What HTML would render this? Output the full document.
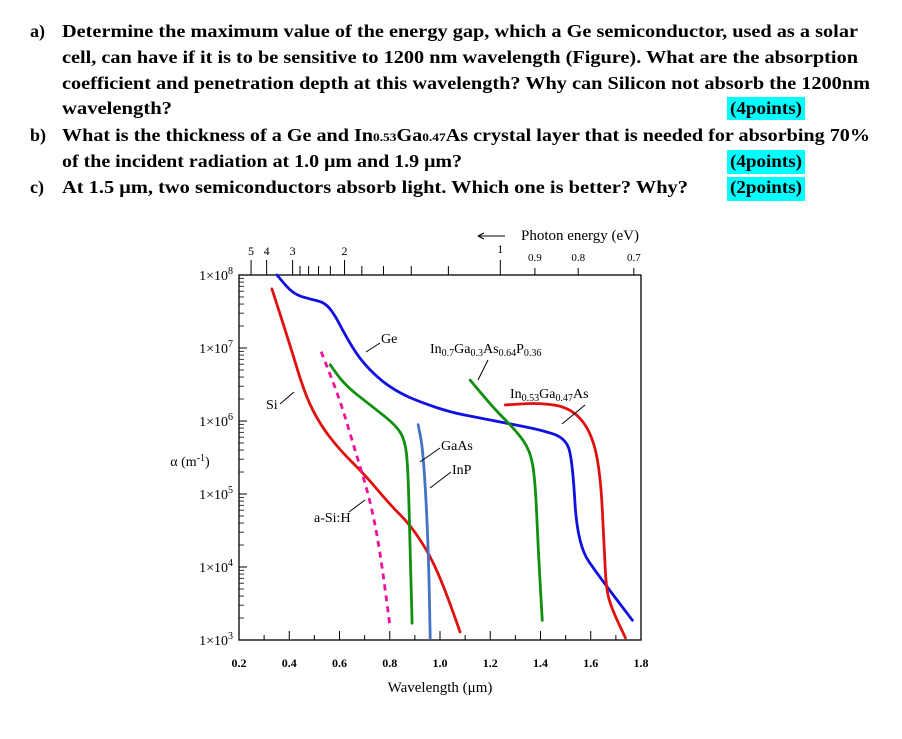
<!DOCTYPE html>
<html><head><meta charset="utf-8"><style>
html,body{margin:0;padding:0;background:#fff;}
svg{display:block;font-family:"Liberation Serif",serif;}
</style></head><body>
<svg id="fig" width="902" height="739" viewBox="0 0 902 739">
<g font-weight="bold" font-size="18">
<rect x="727" y="97" width="78" height="23" fill="#00ffff"/>
<rect x="727" y="150" width="78" height="24" fill="#00ffff"/>
<rect x="727" y="177" width="78" height="24" fill="#00ffff"/>
<text x="30" y="37">a)</text>
<text x="62" y="37" textLength="796" lengthAdjust="spacingAndGlyphs">Determine the maximum value of the energy gap, which a Ge semiconductor, used as a solar</text>
<text x="62" y="63" textLength="796" lengthAdjust="spacingAndGlyphs">cell, can have if it is to be sensitive to 1200 nm wavelength (Figure).  What are the absorption</text>
<text x="62" y="89" textLength="808" lengthAdjust="spacingAndGlyphs">coefficient and penetration depth at this wavelength?  Why can Silicon not absorb the 1200nm</text>
<text x="62" y="114" textLength="110" lengthAdjust="spacingAndGlyphs">wavelength?</text>
<text x="730" y="114" textLength="72" lengthAdjust="spacingAndGlyphs">(4points)</text>
<text x="30" y="141">b)</text>
<text x="62" y="141" textLength="808" lengthAdjust="spacingAndGlyphs">What is the thickness of a Ge and In<tspan font-size="12">0.53</tspan>Ga<tspan font-size="12">0.47</tspan>As crystal layer that is needed for absorbing 70%</text>
<text x="62" y="167" textLength="400" lengthAdjust="spacingAndGlyphs">of the incident radiation at 1.0 μm and 1.9 μm?</text>
<text x="730" y="167" textLength="72" lengthAdjust="spacingAndGlyphs">(4points)</text>
<text x="30" y="193">c)</text>
<text x="62" y="193" textLength="626" lengthAdjust="spacingAndGlyphs">At 1.5 μm, two semiconductors absorb light. Which one is better? Why?</text>
<text x="730" y="193" textLength="72" lengthAdjust="spacingAndGlyphs">(2points)</text>
</g>
<g id="chart"></g>
</svg>
<script>
const seriesNames=["Si","Ge","GaAs","InP","a-Si:H","InGaAsP","InGaAs"];
const seriesColors=["#e01010","#1010e0","#109010","#4472c4","#ee1199","#109010","#e01010"];
const siLambda=[0.331,0.403,0.463,0.523,0.602,0.702,0.802,0.881,0.961,1.021,1.080];
const siLogAlpha=[7.81,7.04,6.36,5.95,5.60,5.26,4.85,4.58,4.16,3.68,3.11];
const geLambda=[0.351,0.415,0.483,0.543,0.582,0.622,0.682,0.762,0.841,0.921,1.041,1.160,1.280,1.399,1.499,1.527,1.547,1.638,1.766];
const geLogAlpha=[8.0,7.74,7.67,7.62,7.45,7.18,6.84,6.56,6.38,6.26,6.12,6.04,5.96,5.88,5.77,5.47,4.30,3.85,3.27];
const gaasLambda=[0.563,0.622,0.722,0.822,0.861,0.873,0.881,0.889];
const gaasLogAlpha=[6.77,6.49,6.22,5.95,5.74,5.33,4.23,3.23];
const inpLambda=[0.913,0.933,0.953,0.961];
const inpLogAlpha=[5.95,5.6,4.37,3.03];
const asiLambda=[0.527,0.602,0.662,0.722,0.761,0.802];
const asiLogAlpha=[6.95,6.29,5.60,4.92,4.23,3.16];
const ingaaspLambda=[1.120,1.220,1.300,1.359,1.379,1.391,1.407];
const ingaaspLogAlpha=[6.56,6.15,5.88,5.60,5.19,4.23,3.27];
const ingaasLambda=[1.260,1.399,1.519,1.598,1.638,1.654,1.662,1.686,1.738];
const ingaasLogAlpha=[6.22,6.25,6.18,5.88,5.33,4.23,3.68,3.41,3.03];
const xTicks=[0.2,0.4,0.6,0.8,1.0,1.2,1.4,1.6,1.8];
const xTickLabels=["0.2","0.4","0.6","0.8","1.0","1.2","1.4","1.6","1.8"];
const yTicks=[8,7,6,5,4,3];
const yTickLabels=["8","7","6","5","4","3"];
const eTicks=[5,4,3,2,1,0.9,0.8,0.7];
const eTickLabels=["5","4","3","2","1","0.9","0.8","0.7"];
const eMinor=[2.8,2.6,2.4,2.2,1.8,1.6,1.4,1.2];

const NS="http://www.w3.org/2000/svg";
const g=document.getElementById('chart');
const X0=239,X1=641,Y0=275,Y1=640;
const xs=v=>X0+(v-0.2)/1.6*(X1-X0);
const ys=v=>Y0+(8-v)/5*(Y1-Y0);
function mk(t,a,p){const e=document.createElementNS(NS,t);for(const k in a)e.setAttribute(k,a[k]);(p||g).appendChild(e);return e;}
function txt(x,y,s,size,anchor){const e=mk('text',{x:x,y:y,'font-size':size||13,'text-anchor':anchor||'middle'});e.textContent=s;return e;}

const frame=mk('rect',{x:X0,y:Y0,width:X1-X0,height:Y1-Y0,fill:'none',stroke:'#000','stroke-width':1.3});


for(let v=0.2;v<=1.801;v+=0.1){const x=xs(v);mk('line',{x1:x,y1:Y1,x2:x,y2:Y1-(Math.round(v*10)%2?5:9),stroke:'#000'});}
xTicks.forEach((v,i)=>{const t=txt(xs(v),Y1+27,xTickLabels[i],12);t.setAttribute('font-weight','bold');

});
const xt=txt(440,692,'Wavelength (μm)',15);


yTicks.forEach((v,i)=>{const y=ys(v);mk('line',{x1:X0,y1:y,x2:X0+8,y2:y,stroke:'#000'});
if(v>3){for(let m=2;m<=9;m++){const yy=ys(v-1+Math.log10(m));mk('line',{x1:X0,y1:yy,x2:X0+5,y2:yy,stroke:'#000','stroke-width':0.8});}}
const t=mk('text',{x:X0-6,y:y+5,'font-size':14,'text-anchor':'end'});t.textContent='1×10';
const s=mk('tspan',{'font-size':10,dy:-6},t);s.textContent=yTickLabels[i];

});
const yt=mk('text',{x:190,y:466,'font-size':14,'text-anchor':'middle'});yt.textContent='α (m';
const sup=mk('tspan',{'font-size':10,dy:-5},yt);sup.textContent='-1';
const cl=mk('tspan',{'font-size':14,dy:5},yt);cl.textContent=')';


eTicks.forEach((e,i)=>{const x=xs(1.24/e);const big=e>=1;
mk('line',{x1:x,y1:Y0,x2:x,y2:Y0-(big?15:7),stroke:'#000'});
const t=txt(x,big?Y0-20:Y0-14,eTickLabels[i],big?12:11);
if(e===1)t.setAttribute('y',Y0-22);

});
eMinor.forEach(e=>{const x=xs(1.24/e);mk('line',{x1:x,y1:Y0,x2:x,y2:Y0-9,stroke:'#000'});});
const et=txt(580,240,'Photon energy (eV)',15);


mk('line',{x1:478,y1:236,x2:505,y2:236,stroke:'#000'});
mk('path',{d:'M478 236 l6 -3 M478 236 l6 3',stroke:'#000',fill:'none'});
const data=[[siLambda,siLogAlpha],[geLambda,geLogAlpha],[gaasLambda,gaasLogAlpha],[inpLambda,inpLogAlpha],[asiLambda,asiLogAlpha],[ingaaspLambda,ingaaspLogAlpha],[ingaasLambda,ingaasLogAlpha]];
data.forEach((d,i)=>{
 let p='';d[0].forEach((l,j)=>{const x=xs(l),y=ys(d[1][j]);
  if(j===0)p+='M'+x+' '+y;else{const px=xs(d[0][j-1]),py=ys(d[1][j-1]);p+=' Q'+px+' '+py+' '+((px+x)/2)+' '+((py+y)/2);}});
 p+=' L'+xs(d[0][d[0].length-1])+' '+ys(d[1][d[1].length-1]);
 const a={d:p,fill:'none',stroke:seriesColors[i],'stroke-width':2.8,'stroke-linecap':'round'};
 if(i===4){a['stroke-dasharray']='6 5';a['stroke-linecap']='butt';}
 const e=mk('path',a);
 
 
});
function lbl(x,y,html,name){const t=mk('text',{x:x,y:y,'font-size':14,'text-anchor':'start'});t.innerHTML=html;

}
lbl(381,343,'Ge','label-ge');mk('line',{x1:380,y1:343,x2:366,y2:352,stroke:'#000'});
lbl(430,353,'In<tspan font-size="10" dy="3">0.7</tspan><tspan dy="-3">Ga</tspan><tspan font-size="10" dy="3">0.3</tspan><tspan dy="-3">As</tspan><tspan font-size="10" dy="3">0.64</tspan><tspan dy="-3">P</tspan><tspan font-size="10" dy="3">0.36</tspan>','label-ingaasp');
mk('line',{x1:488,y1:360,x2:478,y2:380,stroke:'#000'});
lbl(510,398,'In<tspan font-size="10" dy="3">0.53</tspan><tspan dy="-3">Ga</tspan><tspan font-size="10" dy="3">0.47</tspan><tspan dy="-3">As</tspan>','label-ingaas');
mk('line',{x1:585,y1:405,x2:562,y2:424,stroke:'#000'});
lbl(266,409,'Si','label-si');mk('line',{x1:280,y1:404,x2:294,y2:392,stroke:'#000'});
lbl(441,450,'GaAs','label-gaas');mk('line',{x1:440,y1:448,x2:420,y2:462,stroke:'#000'});
lbl(452,474,'InP','label-inp');mk('line',{x1:451,y1:472,x2:430,y2:488,stroke:'#000'});
lbl(314,522,'a-Si:H','label-asih');mk('line',{x1:349,y1:512,x2:365,y2:500,stroke:'#000'});
</script>
</body></html>
